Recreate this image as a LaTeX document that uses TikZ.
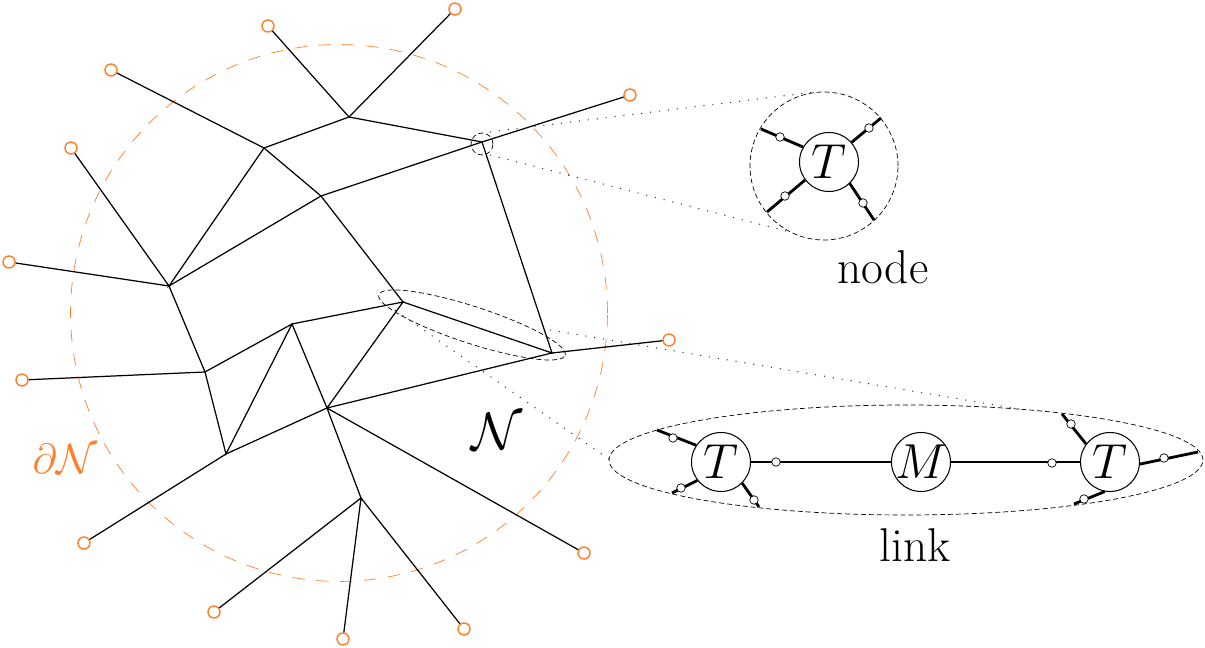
\documentclass[tikz,border=0pt]{standalone}
\usepackage{fix-cm}
\usepackage{xcolor}
\usepackage{amsmath, amssymb}
\definecolor{bdorange}{RGB}{255,127,42}

\begin{document}
\begin{tikzpicture}[
  x=0.02cm, y=-0.02cm,
  leg/.style={line width=0.7pt},
  thickleg/.style={line width=1.6pt},
  boundary/.style={draw=bdorange, line width=0.4pt, dash pattern=on 7pt off 6.6pt},
  lens/.style={draw, line width=0.4pt, dash pattern=on 2.8pt off 1.7pt},
  zoomline/.style={line width=0.6pt, dash pattern=on 0.6pt off 4.5pt, black!80},
  terminal/.style={draw=bdorange, fill=white, circle, line width=0.8pt, inner sep=0pt, minimum size=0.24cm},
  port/.style={draw, fill=white, circle, line width=0.4pt, inner sep=0pt, minimum size=0.17cm},
  tensor/.style={draw, fill=white, circle, line width=0.6pt, inner sep=0pt, minimum size=1.18cm, font=\fontsize{28}{31}\selectfont},
  caption/.style={font=\fontsize{27}{30}\selectfont, inner sep=0pt}
]
\useasboundingbox (0,0) rectangle (1205,648);

% boundary of the network
\draw[boundary] (339,313) circle [radius=5.37cm];

% junctions
\coordinate (a) at (349,117);
\coordinate (b) at (264,148);
\coordinate (c) at (482,142);
\coordinate (d) at (321,196);
\coordinate (f) at (169,286);
\coordinate (i) at (205,372);
\coordinate (j) at (292,324);
\coordinate (h) at (403,302);
\coordinate (g) at (552,353);
\coordinate (l) at (327,408);
\coordinate (k) at (226,454);
\coordinate (m) at (361,498);

% open ends
\node[terminal] (e1) at (268,26) {};
\node[terminal] (e2) at (455,9) {};
\node[terminal] (e3) at (630,95) {};
\node[terminal] (e4) at (111,70) {};
\node[terminal] (e5) at (71,148) {};
\node[terminal] (e6) at (9,262) {};
\node[terminal] (e7) at (22,380) {};
\node[terminal] (e8) at (84,543) {};
\node[terminal] (e9) at (214,612) {};
\node[terminal] (e10) at (343,639) {};
\node[terminal] (e11) at (464,629) {};
\node[terminal] (e12) at (584,553) {};
\node[terminal] (e13) at (669,340) {};

% network
\draw[leg] (e1) -- (a) -- (e2);
\draw[leg] (b) -- (a) -- (c) -- (e3);
\draw[leg] (e4) -- (b) -- (d) -- (h);
\draw[leg] (c) -- (d) -- (f) -- (b);
\draw[leg] (e5) -- (f) -- (e6);
\draw[leg] (f) -- (i) -- (e7);
\draw[leg] (i) -- (j) -- (h) -- (l) -- (j) -- (k) -- (i);
\draw[leg] (e8) -- (k) -- (l) -- (g) -- (e13);
\draw[leg] (c) -- (g) -- (h);
\draw[leg] (e12) -- (l) -- (m) -- (e9);
\draw[leg] (e10) -- (m) -- (e11);

% lenses on the network
\draw[lens] (482,144) circle [radius=0.22cm];
\draw[lens, shift={(472,325)}, rotate=-18] (0,0) ellipse [x radius=1.96cm, y radius=0.37cm];

% zoom guides
\coordinate (nodeA) at (490,132);
\coordinate (nodeB) at (815,92);
\coordinate (nodeC) at (490,155);
\coordinate (nodeD) at (790,232);
\coordinate (linkA) at (550,330);
\coordinate (linkB) at (1025,410);
\coordinate (linkC) at (395,310);
\coordinate (linkD) at (610,460);
\draw[zoomline] (nodeA) -- (nodeB);
\draw[zoomline] (nodeC) -- (nodeD);
\draw[zoomline] (linkA) -- (linkB);
\draw[zoomline] (linkC) -- (linkD);

% node close-up
\draw[lens] (824,166) circle [radius=1.48cm];
\node[tensor] (T0) at (829,162) {\makebox[0pt]{$T$}};
\coordinate (s1) at (761,129);
\coordinate (s2) at (881,118);
\coordinate (s3) at (767,212);
\coordinate (s4) at (874,220);
\draw[thickleg] (T0.150) -- (s1);
\draw[thickleg] (T0.41) -- (s2);
\draw[thickleg] (T0.217) -- (s3);
\draw[thickleg] (T0.-46) -- (s4);
\node[port] (p1) at (780,137) {};
\node[port] (p2) at (869,128) {};
\node[port] (p3) at (785,196) {};
\node[port] (p4) at (863,203) {};
\node[caption] (nodelabel) at (883,267) {node};

% link close-up
\draw[lens] (906,460) ellipse [x radius=5.94cm, y radius=1.1cm];
\node[tensor] (T1) at (721,462) {\makebox[0pt]{$T$}};
\node[tensor] (M) at (921,462) {\makebox[0pt]{$M$}};
\node[tensor] (T2) at (1110,462) {\makebox[0pt]{$T$}};
\coordinate (u1) at (657,430);
\coordinate (u2) at (672,493);
\coordinate (u3) at (759,507);
\coordinate (v1) at (1062,414);
\coordinate (v2) at (1198,452);
\coordinate (v3) at (1074,504);
\draw[thickleg] (T1.146) -- (u1);
\draw[thickleg] (T1.218) -- (u2);
\draw[thickleg] (T1.-45) -- (u3);
\draw[thickleg] (T1) -- (M);
\draw[thickleg] (M) -- (T2);
\draw[thickleg] (T2.143) -- (v1);
\draw[thickleg] (T2.-4) -- (v2);
\draw[thickleg] (T2.260) -- (v3);
\node[port] (q1) at (673,438) {};
\node[port] (q2) at (681,488) {};
\node[port] (q3) at (754,500) {};
\node[port] (q4) at (776,462) {};
\node[port] (q5) at (1052,463) {};
\node[port] (q6) at (1071,424) {};
\node[port] (q7) at (1164,458) {};
\node[port] (q8) at (1084,499) {};
\node[caption] (linklabel) at (915,545) {link};

% network labels
\node[font=\fontsize{30}{34}\selectfont, inner sep=0pt] (net) at (497,431) {$\mathcal{N}$};
\node[font=\fontsize{24}{28}\selectfont, text=bdorange, inner sep=0pt] (bd) at (65,459) {$\partial\mathcal{N}$};
\end{tikzpicture}
\end{document}
